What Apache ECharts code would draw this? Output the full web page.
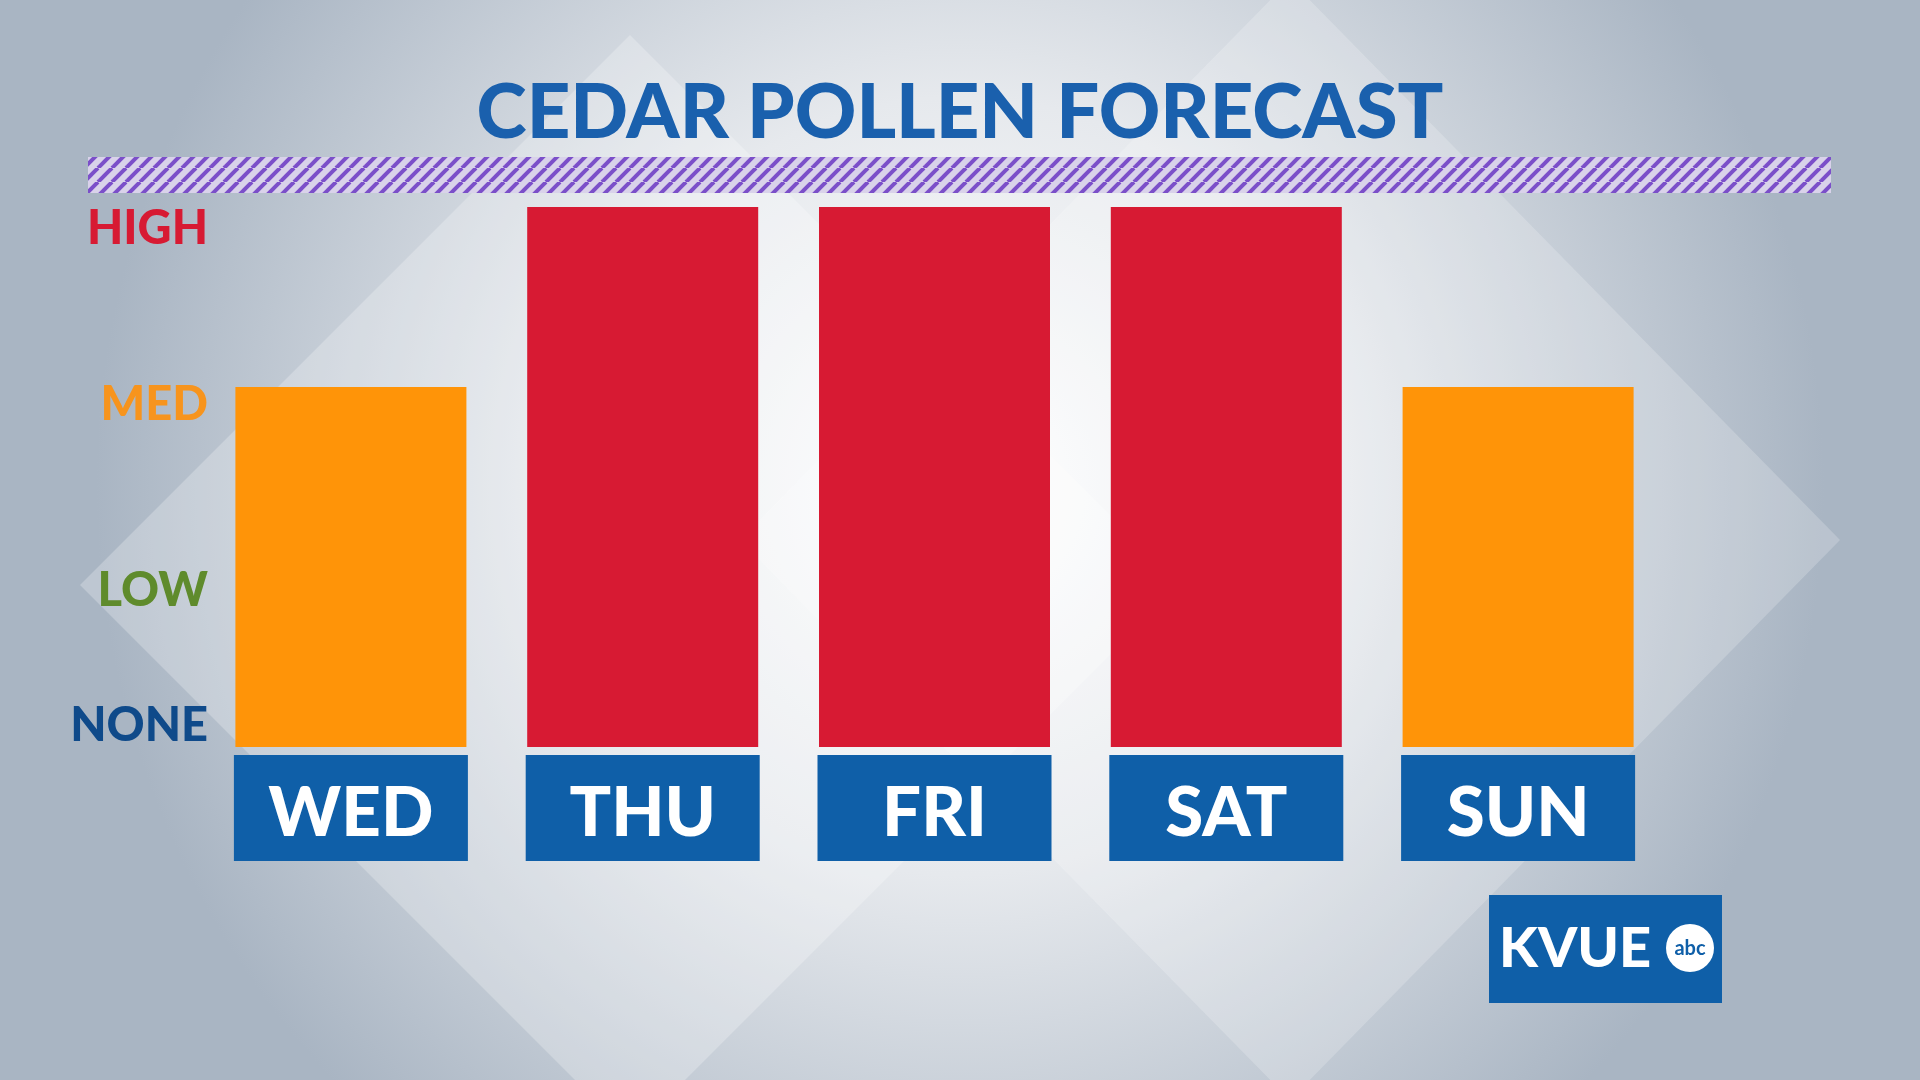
<!DOCTYPE html>
<html><head><meta charset="utf-8">
<script src="https://cdn.jsdelivr.net/npm/echarts@6/dist/echarts.min.js"></script>
<style>html,body{margin:0;padding:0;}#c{width:1920px;height:1080px;}</style>
</head><body><div id="c"></div>
<script>
const days = ['WED','THU','FRI','SAT','SUN'];
const levels = [2, 3, 3, 3, 2];
const levelNames = ['NONE','LOW','MED','HIGH'];
const levelPos = [0.12, 0.87, 1.9, 2.88];
const levelColors = ['#0f4a8a','#5f8b2c','#f7941d','#d71a33'];
const barColors = {2:'#ff9408',3:'#d71a33'};

const pc = document.createElement('canvas');
pc.width = 14; pc.height = 14;
const g = pc.getContext('2d');
g.fillStyle = '#d9d2ea'; g.fillRect(0,0,14,14);
g.strokeStyle = '#7b4fc9'; g.lineWidth = 4;
for (let k=-14;k<=28;k+=14){ g.beginPath(); g.moveTo(k,14); g.lineTo(k+14,0); g.stroke(); }

const chart = echarts.init(document.getElementById('c'));
const F = 'Lato, "Open Sans", sans-serif';
chart.setOption({
  backgroundColor: {type:'radial', x:0.5, y:0.45, r:0.8, colorStops:[{offset:0,color:'#ffffff'},{offset:0.45,color:'#e6e9ed'},{offset:1,color:'#a9b5c3'}]},
  title: {text:'CEDAR POLLEN FORECAST', left:'center', top:70, textStyle:{color:'#1a60ad', fontSize:76, fontWeight:900, fontFamily:F}},
  grid: {left:205, right:256, top:207, bottom:333},
  xAxis: {type:'category', data:days, axisLine:{show:false}, axisTick:{show:false},
    axisLabel:{margin:8, color:'#fff', fontSize:69, fontWeight:900, fontFamily:F, backgroundColor:'#0f5fa8', width:234, height:106, lineHeight:118, align:'center'}},
  yAxis: {type:'value', min:0, max:3, show:false},
  series: [{type:'bar', barWidth:231, data: levels.map(v=>({value:v, itemStyle:{color:barColors[v]}}))}],
  graphic: [
    {type:'polygon', silent:true, z:-10, shape:{points:[[630,35],[1180,585],[630,1135],[80,585]]}, style:{fill:'rgba(255,255,255,0.25)'}},
    {type:'polygon', silent:true, z:-10, shape:{points:[[1290,-20],[1840,540],[1290,1100],[740,540]]}, style:{fill:'rgba(255,255,255,0.2)'}},
    {type:'rect', shape:{x:88,y:157,width:1743,height:36}, style:{fill:{image:pc, repeat:'repeat'}}},
    {type:'rect', shape:{x:1489,y:895,width:233,height:108}, style:{fill:'#0f5fa8'}},
    {type:'text', x:1499, y:949, style:{text:'KVUE', fill:'#fff', font:'900 56px '+F, verticalAlign:'middle'}},
    {type:'circle', shape:{cx:1690,cy:948,r:24}, style:{fill:'#fff'}},
    {type:'text', x:1690, y:949, style:{text:'abc', fill:'#0f5fa8', font:'bold 20px '+F, align:'center', verticalAlign:'middle'}}
  ]
});
const extra = levelNames.map((n,i)=>({type:'text', x:208, y:chart.convertToPixel({yAxisIndex:0}, levelPos[i]),
  style:{text:n, fill:levelColors[i], font:'900 47px '+F, align:'right', verticalAlign:'middle'}}));
const opt = chart.getOption();
chart.setOption({graphic: opt.graphic[0].elements.concat(extra)}, {replaceMerge:['graphic']});
</script></body></html>
